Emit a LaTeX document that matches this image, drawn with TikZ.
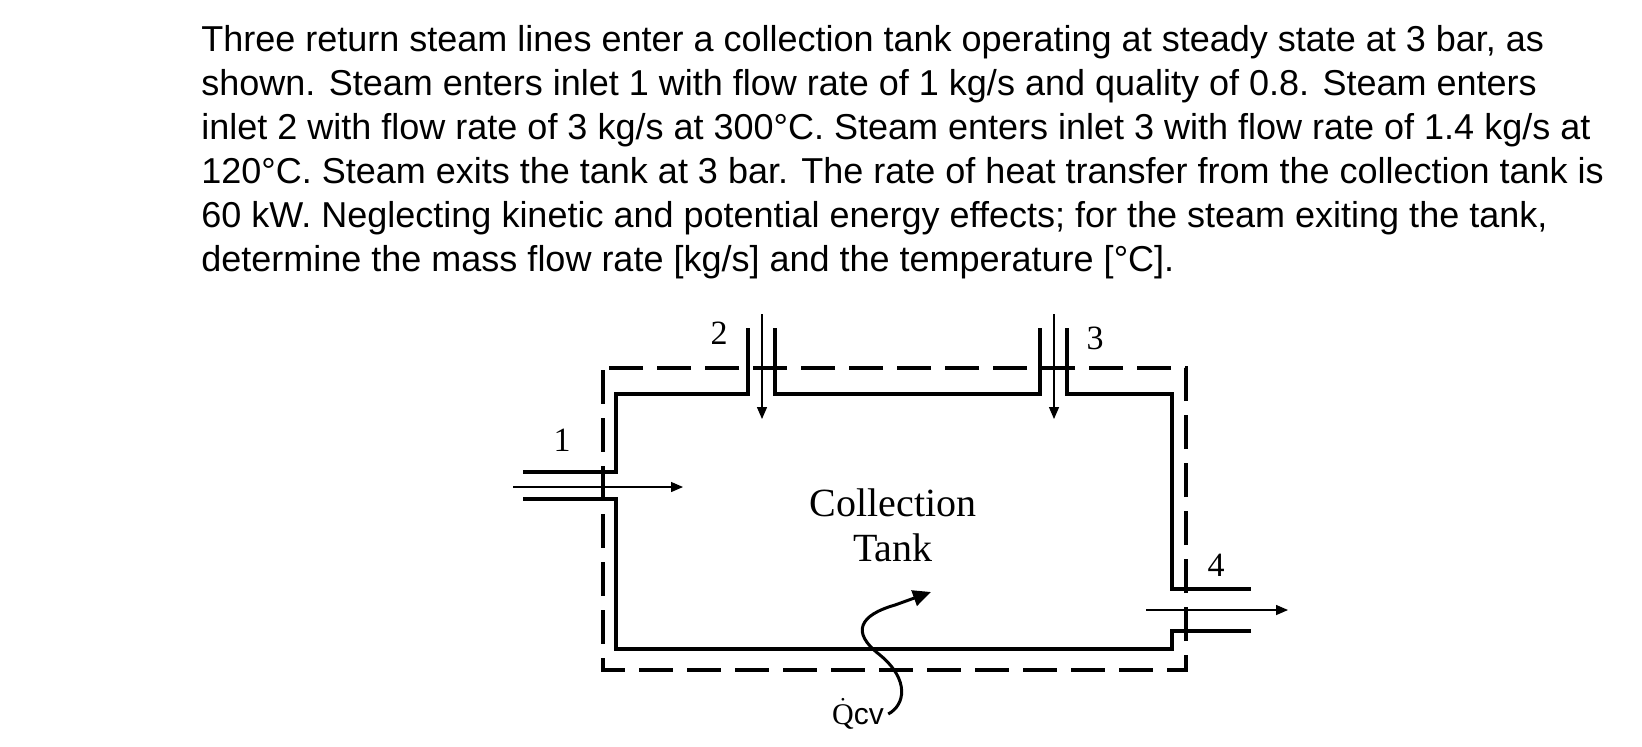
\documentclass[tikz,border=0pt]{standalone}
\usepackage{fontspec}
\setmainfont{Liberation Serif}
\setsansfont{Liberation Sans}
\usetikzlibrary{arrows.meta}
\begin{document}
\begin{tikzpicture}[x=0.5pt,y=-0.5pt,
  wall/.style={line width=2pt,line join=miter},
  bound/.style={line width=1.8pt,dash pattern=on 17pt off 7pt},
  flow/.style={line width=0.7pt,-{Triangle[length=6pt,width=5pt]}},
  para/.style={anchor=base west,inner sep=0,font=\sffamily\fontsize{18}{20}\selectfont},
  lab/.style={font=\fontsize{17}{18}\selectfont,inner sep=0},
  tank/.style={font=\fontsize{20}{22}\selectfont,inner sep=0}]
\useasboundingbox (0,0) rectangle (1642,746);
\node[para] (l1) at (201,51) {Three return steam lines enter a collection tank operating at steady state at 3 bar, as};
\node[para] (l2) at (201,95) {shown. Steam enters inlet 1 with flow rate of 1 kg/s and quality of 0.8. Steam enters};
\node[para] (l3) at (201,139) {inlet 2 with flow rate of 3 kg/s at 300°C. Steam enters inlet 3 with flow rate of 1.4 kg/s at};
\node[para] (l4) at (201,183) {120°C. Steam exits the tank at 3 bar. The rate of heat transfer from the collection tank is};
\node[para] (l5) at (201,227) {60 kW. Neglecting kinetic and potential energy effects; for the steam exiting the tank,};
\node[para] (l6) at (201,271) {determine the mass flow rate [kg/s] and the temperature [°C].};
% tank walls
\draw[wall] (523,472) -- (616,472) -- (616,394) -- (748,394) -- (748,328);
\draw[wall] (775,328) -- (775,394) -- (1040,394) -- (1040,328);
\draw[wall] (1067,328) -- (1067,394) -- (1172,394) -- (1172,589) -- (1251,589);
\draw[wall] (1251,631) -- (1172,631) -- (1172,649) -- (616,649) -- (616,499) -- (523,499);
% control volume boundary
\draw[bound] (603,370) -- (603,670) -- (1186,670) -- (1186,368) -- (603,368);
% flows
\coordinate (a1) at (513,487); \coordinate (b1) at (683,487);
\draw[flow] (a1) -- (b1);
\coordinate (a2) at (762,314); \coordinate (b2) at (762,419);
\draw[flow] (a2) -- (b2);
\coordinate (a3) at (1054,314); \coordinate (b3) at (1054,419);
\draw[flow] (a3) -- (b3);
\coordinate (a4) at (1146,610); \coordinate (b4) at (1288,610);
\draw[flow] (a4) -- (b4);
\node[lab] (n1) at (562,440) {1};
\node[lab] (n2) at (719,333) {2};
\node[lab] (n3) at (1095,338) {3};
\node[lab] (n4) at (1216,565) {4};
\node[tank] (c1) at (893,503) {Collection};
\node[tank] (c2) at (893,548) {Tank};
\node[font=\sffamily\fontsize{15}{18}\selectfont,inner sep=0] (q) at (858,714) {$\dot{\mathrm{Q}}$cv};
\draw[line width=1.5pt,-{Triangle[length=9pt,width=8pt]}] (q.east) ++(4,0)
  .. controls (905,705) and (910,680) .. (880,655)
  .. controls (850,632) and (860,615) .. (895,605) -- (931,592);
\end{tikzpicture}
\end{document}
